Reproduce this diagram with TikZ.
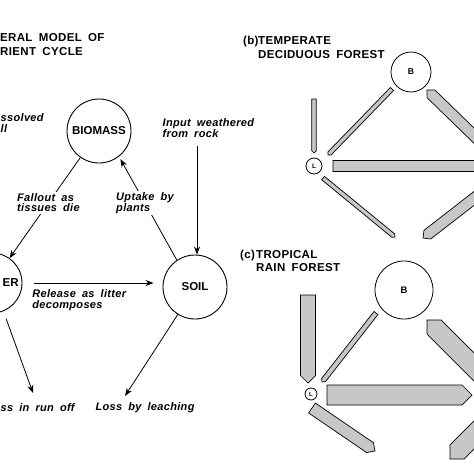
\documentclass[tikz,border=0pt]{standalone}
\usepackage{fontspec}
\setmainfont{Liberation Sans}
\newfontfamily\labfont[LetterSpace=3,WordSpace=1.8]{Liberation Sans}
\newfontfamily\headfont[LetterSpace=3,WordSpace=1.8]{Liberation Sans}
\usepackage{tikz}
\usetikzlibrary{calc,positioning,arrows.meta}
% pencil shaped flux arrow: tail, tip, half width
\newcommand{\flux}[3]{%
  \draw[fluxarrow] ($(#1)!#3!90:(#2)$) -- ($(#2)!#3!(#1)!#3!90:(#2)$) -- (#2)
    -- ($(#2)!#3!(#1)!#3!-90:(#2)$) -- ($(#1)!#3!-90:(#2)$) -- cycle;}

\begin{document}
\begin{tikzpicture}[x=1pt,y=-1pt]
\tikzstyle{pool}=[circle, draw=black, line width=0.9pt, inner sep=0pt, font=\fontsize{11.5}{12}\selectfont\bfseries]
\tikzstyle{small}=[circle, draw=black, line width=0.8pt, inner sep=0pt, font=\fontsize{8.5}{8.5}\selectfont\bfseries]
\tikzstyle{lab}=[align=left, inner sep=1.5pt, font=\fontsize{11}{10.5}\selectfont\labfont\bfseries\itshape]
\tikzstyle{heading}=[align=left, inner sep=0pt, font=\fontsize{11.5}{14}\selectfont\headfont\bfseries]
\tikzstyle{connect}=[-{Stealth[length=8pt,width=6pt]}, line width=0.8pt]
\tikzstyle{fluxarrow}=[draw=black, line width=0.7pt, fill=black!22, line join=miter]
\useasboundingbox (0,0) rectangle (474,474);

% (a) general model
	\node[heading, anchor=north west] (title_a) at (0,33) {ERAL MODEL OF\\RIENT CYCLE};
	\node[pool, minimum size=64pt] (bio) at (99,131) {BIOMASS};
	\node[pool, minimum size=64pt] (soil) at (195,287) {SOIL};
	\node[pool, minimum size=60pt] (lit) at (-8,283) {};
	\node[pool, draw=none, anchor=east] (lit_name) at (20,283) {ER};
	\node[lab, anchor=north west] (rain_a) at (-1,112) {ssolved\\ll};
	\node[lab, anchor=north west] (rock) at (161,117) {Input weathered\\from rock};
	\node[lab, anchor=west] (runoff) at (-1,408) {ss in run off};
	\node[lab] (leach) at (145,408) {Loss by leaching};
	\coordinate (rock_end) at (197,146);
	\coordinate (runoff_end) at (33,393);
	\coordinate (leach_end) at (125,396);

	\path
		(bio) edge[connect] node[lab, fill=white, pos=0.45, name=fall_lab] {Fallout as\\tissues die} (lit)
		(soil.124) edge[connect, shorten >=3pt] node[lab, fill=white, pos=0.55, name=up_lab] {Uptake by\\plants} (bio.-52)
		(rock_end) edge[connect] (rock_end |- soil.north)
		(lit.east) edge[connect, shorten <=12pt, shorten >=9pt] node[lab, anchor=north west, pos=0, xshift=8pt, yshift=-5pt, name=rel_lab] {Release as litter\\decomposes} (lit.east -| soil.west)
		(lit.-68) edge[connect, shorten <=8pt] (runoff_end)
		(soil.-122) edge[connect] (leach_end);

% (b) temperate deciduous forest
	\node[heading, anchor=north west] (title_b) at (243,36) {\makebox[15pt][l]{(b)}TEMPERATE\\\hspace*{15pt}DECIDUOUS FOREST};
	\node[small, minimum size=40pt] (b_b) at (411,72) {B};
	\node[small, minimum size=16pt, font=\fontsize{6.5}{6.5}\selectfont\bfseries] (l_b) at (314,166) {L};
	\coordinate (rain_b1) at (314,99);   \coordinate (rain_b2) at (314,153);
	\coordinate (fall_b1) at (392,89);   \coordinate (fall_b2) at (328,155);
	\coordinate (rel_b1) at (333,166);   \coordinate (rel_b2) at (540,166);
	\coordinate (up_b1) at (530,190);    \coordinate (up_b2) at (427,90);
	\coordinate (run_b1) at (323,178);   \coordinate (run_b2) at (395,237);
	\coordinate (leach_b1) at (530,155); \coordinate (leach_b2) at (423,238);
	\flux{rain_b1}{rain_b2}{2.2pt}
	\flux{fall_b1}{fall_b2}{2.2pt}
	\flux{rel_b1}{rel_b2}{5.5pt}
	\flux{up_b1}{up_b2}{5.5pt}
	\flux{run_b1}{run_b2}{2.2pt}
	\flux{leach_b1}{leach_b2}{5.5pt}

% (c) tropical rain forest
	\node[heading, anchor=north west, font=\fontsize{11.5}{12.5}\selectfont\headfont\bfseries] (title_c) at (240,250) {\makebox[16pt][l]{(c)}TROPICAL\\\hspace*{16pt}RAIN FOREST};
	\node[small, minimum size=58pt, font=\fontsize{9.5}{9.5}\selectfont\bfseries] (b_c) at (404,290) {B};
	\node[small, minimum size=12pt, font=\fontsize{6}{6}\selectfont\bfseries] (l_c) at (311,394) {L};
	\coordinate (rain_c1) at (308,295);  \coordinate (rain_c2) at (308,383);
	\coordinate (fall_c1) at (376,313);  \coordinate (fall_c2) at (322,382);
	\coordinate (rel_c1) at (327,395);   \coordinate (rel_c2) at (472,395);
	\coordinate (up_c1) at (530,423);    \coordinate (up_c2) at (427,320);
	\coordinate (run_c1) at (312,408);   \coordinate (run_c2) at (375,451);
	\coordinate (leach_c1) at (550,359); \coordinate (leach_c2) at (450,459);
	\flux{rain_c1}{rain_c2}{7.5pt}
	\flux{fall_c1}{fall_c2}{2.5pt}
	\flux{rel_c1}{rel_c2}{10pt}
	\flux{up_c1}{up_c2}{10pt}
	\flux{run_c1}{run_c2}{6pt}
	\flux{leach_c1}{leach_c2}{10pt}
\end{tikzpicture}
\end{document}
